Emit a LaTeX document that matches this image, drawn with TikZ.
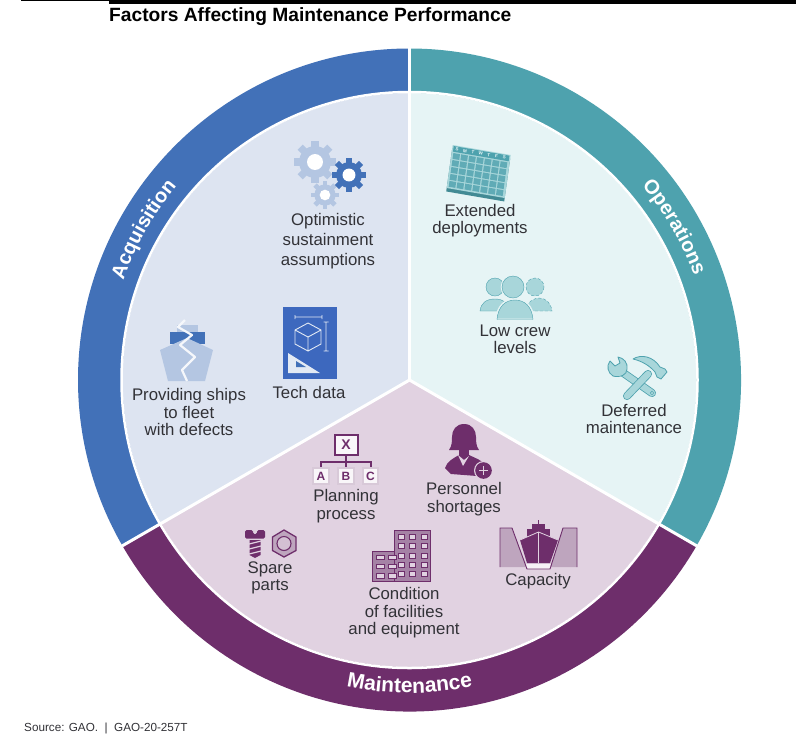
\documentclass[tikz,border=0pt]{standalone}
\usepackage{xcolor}
\usepackage{fontspec}
\setmainfont{Liberation Sans}
\usepackage{tikz}
\usetikzlibrary{positioning,decorations.text}
\definecolor{AcqBlue}{RGB}{66,113,184}
\definecolor{SoftBlue}{RGB}{221,228,241}
\definecolor{PaleBlue}{RGB}{180,198,226}
\definecolor{OpsTeal}{RGB}{78,162,174}
\definecolor{SoftTeal}{RGB}{230,244,245}
\definecolor{PaleTeal}{RGB}{168,214,218}
\definecolor{MaintPurple}{RGB}{110,46,107}
\definecolor{SoftPurple}{RGB}{225,210,225}
\definecolor{PalePurple}{RGB}{190,165,190}
\definecolor{MidPurple}{RGB}{165,130,165}
\definecolor{LabelGrey}{RGB}{50,50,55}
\tikzset{
  factor/.style={text=LabelGrey, align=center, inner sep=0pt, font=\fontsize{16.8}{17.4}\selectfont},
  ringlabel/.style n args={2}{decorate, decoration={text along path, text align=center, text={|\fontsize{#1}{#1}\selectfont\bfseries\color{white}|#2}}}
}
\newcommand{\gearicon}[5]{%
  \fill[#4] (#1,#2) circle[radius=#3*0.76];
  \foreach \t in {0,45,...,315}
    \fill[#4, rotate around={\t:(#1,#2)}] (#1-#3*0.17,#2) rectangle (#1+#3*0.17,#2-#3);
  \fill[#5] (#1,#2) circle[radius=#3*0.38];
}
\begin{document}
\begin{tikzpicture}[x=1pt, y=-1pt, font=\fontsize{16.8}{17.4}\selectfont]
    \useasboundingbox (0,0) rectangle (811,740);
    \fill [white] (0,0) rectangle (811,740);
    \fill [black] (21,0) rectangle (109,1);
    \fill [black] (109,0) rectangle (796,3.5);
    \node [anchor=west, inner sep=0pt, font=\fontsize{19.2}{22}\selectfont\bfseries] (title) at (109,17) {Factors Affecting Maintenance Performance};
    \node [anchor=west, inner sep=0pt, text=LabelGrey, font=\fontsize{11.7}{14}\selectfont] (source) at (24,728.5) {Source: GAO.\ \ |\ \ GAO-20-257T};

    \begin{scope}[shift={(409.5,380)}, y=1pt]
        \coordinate (hub) at (0,0);
        \foreach \a/\b/\soft/\ring in {90/210/SoftBlue/AcqBlue, -30/90/SoftTeal/OpsTeal, 210/330/SoftPurple/MaintPurple} {
            \fill [\ring] (hub) -- (\a:331.5) arc[start angle=\a, end angle=\b, radius=331.5] -- cycle;
            \fill [\soft] (hub) -- (\a:287) arc[start angle=\a, end angle=\b, radius=287] -- cycle;
        }
        \draw [white, line width=2.5] (hub) circle[radius=288];
        \foreach \a in {90,210,330}
            \draw [white, line width=3] (hub) -- (\a:332);
        \path [ringlabel={20}{Acquisition}] (175.5:303) arc[start angle=175.5, end angle=125.5, radius=303];
        \path [ringlabel={20}{Operations}] (55:303) arc[start angle=55, end angle=5, radius=303];
        \path [ringlabel={21}{Maintenance}] (240:313) arc[start angle=240, end angle=300, radius=313];
    \end{scope}

    \gearicon{315}{162}{21}{PaleBlue}{white}
    \gearicon{325}{195}{14}{PaleBlue}{white}
    \gearicon{349}{175}{17}{AcqBlue}{white}
    \node [factor, font=\fontsize{16.8}{20}\selectfont] (optimistic) at (328,241.5) {Optimistic\\sustainment\\assumptions};

    \fill [PaleBlue] (177,332) -- (177,325) -- (198,325) -- (198,332) -- cycle;
    \fill [AcqBlue] (170,332) rectangle (205,344);
    \fill [PaleBlue] (160,350) -- (187,338) -- (213,350) -- (205,381) -- (168,381) -- cycle;
    \draw [white!70!SoftBlue, line width=2.2, line join=round] (185,320) -- (178,327) -- (192,335) -- (180,345) -- (195,357) -- (182,370) -- (187,381);
    \node [factor] (ships) at (189,412) {Providing ships\\to fleet\\with defects};

    \fill [AcqBlue!92!blue] (282.5,306.5) rectangle (337,379);
    \draw [white!85!AcqBlue, line width=0.9] (295,317) -- (322,317) (295,315) -- (295,319) (322,315) -- (322,319)
        (326,322) -- (326,351) (323.5,322) -- (328.5,322) (323.5,351) -- (328.5,351)
        (308,323) -- (321,330) -- (321,344) -- (308,351) -- (295,344) -- (295,330) -- cycle
        (295,330) -- (308,337) -- (321,330) (308,337) -- (308,351);
    \fill [white!85!AcqBlue] (288,353) -- (288,373) -- (320,373) -- cycle;
    \fill [AcqBlue] (296,361) -- (296,367) -- (306,367) -- cycle;
    \node [factor] (techdata) at (309,392) {Tech data};

    \begin{scope}[shift={(452.7,145)}, x={(58pt,-10pt)}, y={(-6pt,-43pt)}]
        \fill [OpsTeal!85!black] (0,0.08) -- (1,0.08) -- (1,1.08) -- (0,1.08) -- cycle;
        \fill [PaleTeal] (0,0) -- (1,0) -- (1,1) -- (0,1) -- cycle;
        \fill [OpsTeal] (0.02,0.02) -- (0.98,0.02) -- (0.98,0.15) -- (0.02,0.15) -- cycle;
        \foreach \c in {0,...,6}
            \foreach \r in {0,...,4}
                \fill [OpsTeal!90!white] ({0.03+\c*0.136},{0.18+\r*0.162}) -- ({0.145+\c*0.136},{0.18+\r*0.162}) -- ({0.145+\c*0.136},{0.315+\r*0.162}) -- ({0.03+\c*0.136},{0.315+\r*0.162}) -- cycle;
        \foreach \c/\d [count=\i from 0] in {a/S,b/M,c/T,d/W,e/T,f/F,g/S}
            \node [rotate=-10, inner sep=0pt, text=SoftTeal, font=\fontsize{4.5}{5}\selectfont\bfseries] (day\c) at ({0.085+\i*0.136},0.085) {\d};
    \end{scope}
    \node [factor] (extended) at (480,220.5) {Extended\\deployments};

    \draw [OpsTeal, densely dashed, fill=PaleTeal] (535,287) circle[radius=9];
    \draw [OpsTeal, densely dashed, fill=PaleTeal] (525,311) .. controls (527,301) and (535,298) .. (539,298) .. controls (546,298) and (551,303) .. (552,311) -- cycle;
    \draw [OpsTeal, fill=PaleTeal] (480,311) .. controls (481,303) and (486,299) .. (495,299) .. controls (503,299) and (509,303) .. (512,311) -- cycle;
    \draw [OpsTeal, fill=PaleTeal] (495,287) circle[radius=9];
    \draw [SoftTeal, line width=1.6, fill=PaleTeal] (496,319.5) .. controls (497,306) and (505,299) .. (515,299) .. controls (525,299) and (533,306) .. (534,319.5) -- cycle;
    \draw [OpsTeal] (497,319.5) .. controls (498,307) and (505,300) .. (515,300) .. controls (525,300) and (532,307) .. (533,319.5) -- cycle;
    \draw [SoftTeal, line width=1.6, fill=PaleTeal] (513,287) circle[radius=11.5];
    \draw [OpsTeal, fill=PaleTeal] (513,287) circle[radius=11];
    \node [factor] (lowcrew) at (515,339.5) {Low crew\\levels};

    \draw [OpsTeal, line width=8, line cap=round] (652,393) -- (622,372);
    \draw [PaleTeal, line width=6.4, line cap=round] (652,393) -- (622,372);
    \draw [OpsTeal, fill=PaleTeal, line width=0.8, line join=round] (610,361) .. controls (606,366) and (608,373) .. (613,376) .. controls (620,378) and (627,375) .. (627,369) .. controls (628,363) and (624,358) .. (618,357) -- (620,363) -- (615,366) -- cycle;
    \fill [PaleTeal] (619,371) circle[radius=5];
    \draw [OpsTeal] (652,393) circle[radius=1.8];
    \draw [OpsTeal, line width=8, line cap=round] (627,396) -- (648,374);
    \draw [PaleTeal, line width=6.4, line cap=round] (627,396) -- (648,374);
    \draw [OpsTeal, fill=PaleTeal, line width=0.8, line join=round] (633,359) .. controls (641,354) and (653,356) .. (660,367) -- (665,369) -- (667,372) -- (661,379) -- (657,377) -- (655,372) .. controls (650,366) and (642,361) .. (633,359) -- cycle;
    \node [factor] (deferred) at (634,419) {Deferred\\maintenance};

    \draw [MaintPurple, line width=2] (346,455) -- (346,468) (321,468) -- (321,461.5) -- (370.5,461.5) -- (370.5,468);
    \node [draw=MaintPurple, line width=2, fill=white!80!SoftPurple, minimum width=23pt, minimum height=20pt, inner sep=0pt, font=\fontsize{14}{14}\selectfont\bfseries, text=MaintPurple] (rootbox) at (346,444.5) {X};
    \foreach \n/\x in {A/321, B/346, C/370.5}
        \node [draw=PalePurple!60!white, line width=1.6, fill=white!80!SoftPurple, minimum width=15.5pt, minimum height=15.5pt, inner sep=0pt, font=\fontsize{12}{12}\selectfont\bfseries, text=MaintPurple] (box\n) at (\x,476) {\n};
    \node [factor] (planning) at (346,506) {Planning\\process};

    \fill [MaintPurple] (464,424) .. controls (472,424) and (476,430) .. (476,437) .. controls (476,441) and (476,446) .. (479,450) -- (449,450) .. controls (452,446) and (452,441) .. (452,437) .. controls (452,430) and (456,424) .. (464,424) -- cycle;
    \fill [MaintPurple] (459,448) rectangle (469,457);
    \fill [MaintPurple] (445,468) .. controls (447,461) and (454,458) .. (459,455) -- (469,455) .. controls (475,458) and (482,460) .. (485,465) -- (477,476) -- (451,474) -- cycle;
    \fill [SoftPurple] (458,455) -- (463,466) -- (469,456) -- (464,460) -- cycle;
    \fill [SoftPurple] (483.5,470.5) circle[radius=9.5];
    \fill [MaintPurple] (483.5,470.5) circle[radius=8.3];
    \draw [PalePurple!50!white, line width=1.8] (479,470.5) -- (488,470.5) (483.5,466) -- (483.5,475);
    \node [factor] (personnel) at (464,499) {Personnel\\shortages};

    \fill [MaintPurple, rounded corners=1.5pt] (245,538.5) -- (245,530) -- (253,530) -- (253,534) -- (257,534) -- (257,530) -- (265,530) -- (265,538.5) -- cycle;
    \fill [MaintPurple] (249.5,540) -- (260.5,540) -- (260.5,555) -- (255,558) -- (249.5,555) -- cycle;
    \foreach \y in {544,549,554}
        \draw [SoftPurple, line width=1.2] (249,\y) -- (261,\y-3);
    \draw [MaintPurple, line width=1.3, fill=PalePurple] (284,530) -- (296,537) -- (296,550.5) -- (284,557) -- (272.5,550.5) -- (272.5,537) -- cycle;
    \draw [MaintPurple, line width=1.1, fill=SoftPurple!60!PalePurple] (284,543.5) circle[radius=7];
    \node [factor] (spare) at (270,578) {Spare\\parts};

    \fill [MidPurple] (394,530.5) rectangle (430,581.5);
    \fill [MidPurple] (372.5,551.5) rectangle (394,581.5);
    \draw [MaintPurple, line width=0.8] (394,551.5) -- (394,530.5) -- (430,530.5) -- (430,581.5) -- (372.5,581.5) -- (372.5,551.5) -- (394,551.5) -- (394,581.5);
    \foreach \r in {0,...,4}
        \foreach \c in {0,1,2}
            \draw [MaintPurple, line width=0.9, fill=SoftPurple] ({398+\c*11.5},{534.5+\r*9.3}) rectangle +(6,5);
    \foreach \r in {0,1,2}
        \foreach \c in {0,1}
            \draw [MaintPurple, line width=0.9, fill=SoftPurple] ({376.5+\c*12},{555+\r*9.3}) rectangle +(7.5,4.5);
    \node [factor] (condition) at (404,613) {Condition\\of facilities\\and equipment};

    \fill [PalePurple] (500,528) -- (512,528) -- (527,568) -- (550,568) -- (563,528) -- (577,528) -- (577,567) -- (500,567) -- cycle;
    \fill [white!70!SoftPurple] (525.5,564) -- (551.5,564) -- (550,569) -- (527,569) -- cycle;
    \draw [MaintPurple, line width=0.9] (500,567) -- (500,528) -- (512,528) -- (527,569) -- (550,569) -- (563,528) -- (577,528) -- (577,567);
    \fill [MaintPurple] (532,524) rectangle (545,530);
    \fill [MaintPurple] (527,529) rectangle (550,541);
    \draw [MaintPurple, line width=1] (538.5,520) -- (538.5,525);
    \fill [MaintPurple] (520,540) -- (538.5,532) -- (558,540) -- (550,563) -- (527,563) -- cycle;
    \draw [SoftPurple, line width=0.8] (520,540) -- (538.5,532) -- (558,540) (538.5,532) -- (538.5,563);
    \node [factor] (capacity) at (538,581.5) {Capacity};
\end{tikzpicture}
\end{document}
